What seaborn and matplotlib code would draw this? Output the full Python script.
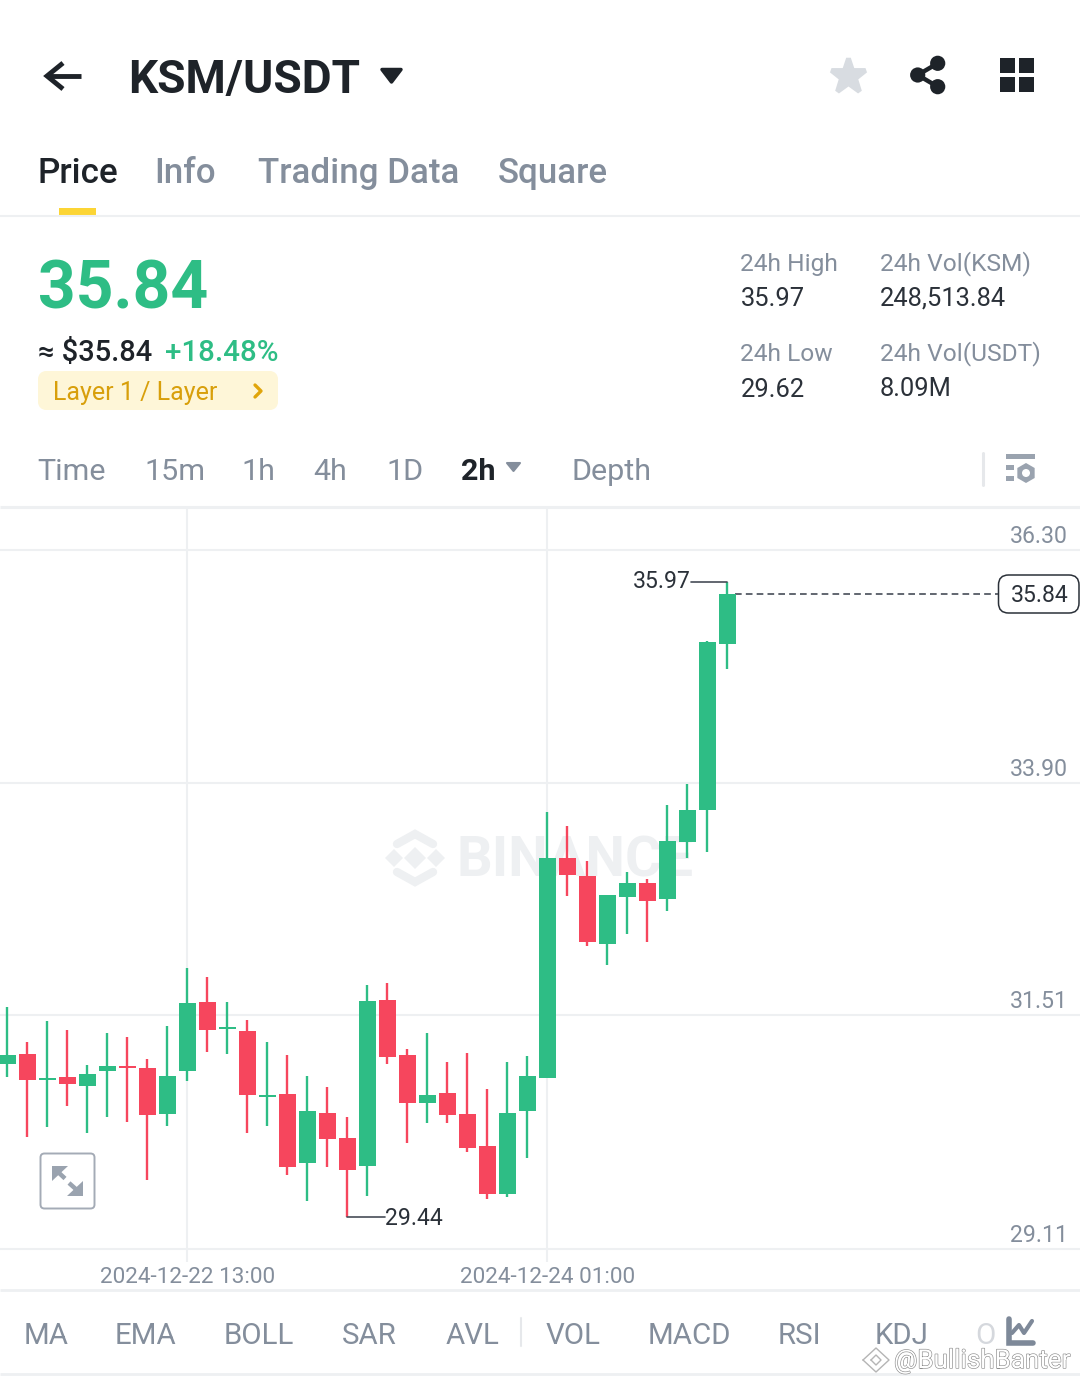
#!/usr/bin/env python
# -*- coding: utf-8 -*-
"""KSM/USDT 2h candle chart, trading app screen."""

import pandas as pd
import numpy as np
import matplotlib
matplotlib.use("Agg")
import matplotlib.pyplot as plt
from matplotlib.patches import FancyBboxPatch, Polygon, Circle, Rectangle
from matplotlib.transforms import ScaledTranslation
import matplotlib.patheffects as pe
import seaborn as sns

# candles, oldest first
opens = [31.01, 31.11, 30.85, 30.88, 30.79, 30.94, 30.99, 30.97, 30.50, 30.94,
         31.65, 31.37, 31.35, 30.67, 30.70, 29.99, 30.51, 30.25, 29.96, 31.67,
         31.10, 30.61, 30.71, 30.50, 30.17, 29.67, 30.53, 30.87, 33.13, 32.94,
         32.25, 32.73, 32.87, 32.71, 33.29, 33.62, 35.33]
closes = [31.10, 30.85, 30.87, 30.81, 30.91, 30.99, 30.97, 30.49, 30.89, 31.64,
          31.36, 31.39, 30.69, 30.69, 29.95, 30.53, 30.24, 29.92, 31.66, 31.08,
          30.61, 30.69, 30.49, 30.15, 29.68, 30.51, 30.89, 33.13, 32.95, 32.27,
          32.75, 32.87, 32.69, 33.30, 33.62, 35.35, 35.84]
highs = [31.60, 31.24, 31.45, 31.36, 31.00, 31.33, 31.29, 31.06, 31.40, 32.00,
         31.91, 31.65, 31.46, 31.24, 31.10, 30.89, 30.77, 30.47, 31.82, 31.84,
         31.17, 31.33, 31.03, 31.12, 30.75, 31.03, 31.09, 33.60, 33.46, 33.10,
         32.75, 32.99, 32.91, 33.67, 33.89, 35.36, 35.97]
lows = [30.88, 30.26, 30.36, 30.58, 30.30, 30.47, 30.42, 29.82, 30.37, 30.84,
        31.13, 31.11, 30.30, 30.37, 29.87, 29.60, 29.95, 29.44, 29.65, 31.01,
        30.20, 30.40, 30.40, 30.11, 29.62, 29.64, 30.05, 30.87, 32.74, 32.22,
        32.03, 32.35, 32.27, 32.58, 33.13, 33.19, 35.07]

price_ticks = [29.11, 31.51, 33.90, 36.30]
price_labels = ["29.11", "31.51", "33.90", "36.30"]
date_positions = [9, 27]
date_labels = ["2024-12-22 13:00", "2024-12-24 01:00"]
last_price = 35.84
high_mark = 35.97
low_mark = 29.44
high_mark_idx = 36
low_mark_idx = 17

tabs = [("Price", 38), ("Info", 154), ("Trading Data", 258.5), ("Square", 497.5)]
intervals = [("Time", 37), ("15m", 144), ("1h", 241), ("4h", 313), ("1D", 386), ("Depth", 572)]
indicators = [("MA", 24), ("EMA", 115), ("BOLL", 223.5), ("SAR", 342), ("AVL", 445.5),
              ("VOL", 546), ("MACD", 648), ("RSI", 777.5), ("KDJ", 874.5)]
stats = [("24h High", "35.97", 740.5, 271, 306), ("24h Vol(KSM)", "248,513.84", 879.5, 270, 305),
         ("24h Low", "29.62", 740.5, 361, 397), ("24h Vol(USDT)", "8.09M", 879.5, 360, 396)]

W, H = 1080, 1382
GREEN = "#2EBD85"
RED = "#F6465D"
DARK = "#1E2329"
GREY = "#848E9C"
LINE = "#EEF0F2"
ICON = "#9AA3AF"

sns.set_theme(style="white")
plt.rcParams["font.family"] = ["Roboto", "DejaVu Sans"]

fig = plt.figure(figsize=(W / 100, H / 100), dpi=100, facecolor="white")

# screen axes in pixels, watermark and app controls
ui = fig.add_axes([0, 0, 1, 1], zorder=0)
ui.set_xlim(0, W)
ui.set_ylim(H, 0)
ui.axis("off")


def txt(x, y, s, px, color=GREY, weight="normal", ha="left", **kw):
    # size given in pixels, y is the baseline
    return ui.text(x, y, s, fontsize=px * 0.72, color=color, fontweight=weight,
                   ha=ha, va="baseline", **kw)


def hline(y, x0=0, x1=W, lw=1.5, color=LINE):
    ui.plot([x0, x1], [y, y], color=color, lw=lw, solid_capstyle="butt")


# header
ui.plot([47, 81], [76, 76], color=DARK, lw=3.5, solid_capstyle="butt")
ui.plot([63, 47, 63], [63, 76, 89], color=DARK, lw=3.5, solid_capstyle="butt", solid_joinstyle="miter")
txt(128.5, 93, "KSM/USDT", 46, DARK, "bold")
ui.add_patch(Polygon([(382, 69.5), (401, 69.5), (391.5, 82)], closed=True, fc=DARK, ec=DARK, lw=2.5, joinstyle="round"))
ui.plot([848], [76], marker="*", ms=26, color="#D8DCE1", mec="#D8DCE1", mew=3.5, mfc="#D8DCE1", ls="none")

# share icon
ui.plot([937.7, 917.7, 937.7], [63.3, 75, 86.7], color=DARK, lw=3.2)
for cx, cy in [(917.7, 75), (937.7, 63.3), (937.7, 86.7)]:
    ui.add_patch(Circle((cx, cy), 7.6, fc=DARK, ec="none"))

# layout icon
for sx in (1000, 1018.7):
    for sy in (58.3, 77.3):
        ui.add_patch(Rectangle((sx, sy), 15.3, 15, fc=DARK, ec="none"))

for i, (label, x) in enumerate(tabs):
    txt(x, 183, label, 35, DARK if i == 0 else GREY, "medium")
ui.add_patch(Rectangle((59, 208), 37, 7, fc="#FCD535", ec="none"))
hline(216)

# price block
txt(38, 308, "35.84", 66, GREEN, "bold")
txt(38, 361, "≈ $35.84", 29, DARK, "medium")
txt(165.5, 361, "+18.48%", 29.5, GREEN, "medium")
ui.add_patch(Rectangle((46, 371), 224, 39, fc="#FEF6D8", ec="none"))
ui.add_patch(Rectangle((38, 379), 240, 23, fc="#FEF6D8", ec="none"))
for corner in [(46, 379), (46, 402), (270, 379), (270, 402)]:
    ui.add_patch(Circle(corner, 8, fc="#FEF6D8", ec="none"))
txt(53, 400, "Layer 1 / Layer", 25, "#D89F0B")
ui.plot([255, 261, 255], [385, 391, 397], color="#E0A50B", lw=2.4)

for head, value, x, y0, y1 in stats:
    txt(x, y0, head, 24.5, GREY)
    txt(x, y1, value, 25.5, "#2B3139")

# interval row
for label, x in intervals:
    txt(x, 480, label, 30.5, GREY)
txt(461, 480, "2h", 30.5, DARK, "bold")
ui.add_patch(Polygon([(507, 463), (520, 463), (513.5, 471)], closed=True, fc=GREY, ec=GREY, lw=1.5, joinstyle="round"))
ui.plot([983, 983], [453, 485], color="#E6E8EB", lw=2.2)
ui.add_patch(Rectangle((1006, 454), 29, 4.5, fc=ICON, ec="none"))
ui.add_patch(Rectangle((1006, 465), 8, 5, fc=ICON, ec="none"))
ui.add_patch(Rectangle((1006, 475.5), 8, 5, fc=ICON, ec="none"))
angles = np.deg2rad(np.arange(30, 390, 60))
ui.add_patch(Polygon(np.c_[1026 + 10 * np.cos(angles), 473 + 10 * np.sin(angles)], closed=True, fc=ICON, ec="none"))
ui.add_patch(Circle((1026, 473), 4, fc="white", ec="none"))
hline(507, lw=2.2)

# BINANCE watermark behind the candles
wm = "#EEF0F2"
cx, cy = 415, 858
ui.add_patch(Polygon([(cx, cy - 11), (cx + 11, cy), (cx, cy + 11), (cx - 11, cy)], closed=True, fc=wm, ec="none"))
ui.add_patch(Polygon([(cx - 30, cy), (cx - 21, cy - 9), (cx - 12, cy), (cx - 21, cy + 9)], closed=True, fc=wm, ec="none"))
ui.add_patch(Polygon([(cx + 30, cy), (cx + 21, cy - 9), (cx + 12, cy), (cx + 21, cy + 9)], closed=True, fc=wm, ec="none"))
ui.plot([cx - 18, cx, cx + 18], [cy - 14, cy - 24, cy - 14], color=wm, lw=6, solid_joinstyle="miter")
ui.plot([cx - 18, cx, cx + 18], [cy + 14, cy + 24, cy + 14], color=wm, lw=6, solid_joinstyle="miter")
txt(457, 876, "BINANCE", 56, wm, "bold")

# bottom row
hline(1290, lw=2)
hline(1374, lw=2)
for label, x in indicators:
    txt(x, 1344, label, 29.5, GREY)
txt(975, 1344, "O", 29.5, "#D5D8DD")
ui.plot([521, 521], [1318, 1346], color="#E6E8EB", lw=1.5)
ui.plot([1009, 1009, 1033], [1319, 1343, 1343], color="#7E8999", lw=4, solid_joinstyle="miter")
ui.plot([1012, 1019, 1024, 1032], [1333, 1325, 1333, 1321], color="#7E8999", lw=3)

# reposter credit
txt(894, 1368, "@BullishBanter", 26, "white",
    path_effects=[pe.withStroke(linewidth=0.9, foreground="#8C8C8C")])
lx, ly = 876, 1360
ui.plot([lx - 13, lx, lx + 13, lx, lx - 13], [ly, ly + 12, ly, ly - 12, ly], color="#B5B5B5", lw=1)
ui.plot([lx - 5, lx, lx + 5, lx, lx - 5], [ly, ly + 5, ly, ly - 5, ly], color="#B5B5B5", lw=1)

# expand button
ui.add_patch(FancyBboxPatch((43, 1156), 49, 50, boxstyle="round,pad=2.5,rounding_size=4",
                            fc="white", ec="#A4ABB6", lw=1.4))
ui.plot([58, 65], [1172, 1178.5], color=ICON, lw=3.2, solid_capstyle="butt")
ui.plot([69, 78], [1183, 1191], color=ICON, lw=3.2, solid_capstyle="butt")
ui.add_patch(Polygon([(52, 1166), (68, 1166), (52, 1181)], closed=True, fc=ICON, ec="none"))
ui.add_patch(Polygon([(83, 1196), (67, 1196), (83, 1181)], closed=True, fc=ICON, ec="none"))

# last price tag
ui.add_patch(FancyBboxPatch((1008.5, 585), 60.5, 18, boxstyle="round,pad=10,rounding_size=10",
                            fc="white", ec="#2B3139", lw=1.1))

# price chart, x runs on candle index so one candle is 20 px
top_px, bottom_px = 508, 1262
ax = fig.add_axes([0, 1 - bottom_px / H, 1, (bottom_px - top_px) / H], zorder=1)
ax.patch.set_alpha(0)

df = pd.DataFrame({"open": opens, "close": closes, "high": highs, "low": lows})
df["idx"] = df.index
df["direction"] = np.where(df["close"] >= df["open"], "up", "down")
palette = {"up": GREEN, "down": RED}

wicks = df.melt(id_vars=["idx", "direction"], value_vars=["high", "low"], value_name="price")
sns.lineplot(data=wicks, x="idx", y="price", units="idx", hue="direction", estimator=None,
             palette=palette, sort=False, linewidth=1.7, legend=False, ax=ax,
             solid_capstyle="butt", zorder=2)
ax.bar(df["idx"], (df["close"] - df["open"]).abs().clip(lower=0.02),
       bottom=df[["open", "close"]].min(axis=1), width=0.86,
       color=df["direction"].map(palette), linewidth=0, zorder=3)

ax.set_xlim(-0.365, 53.635)
ax.set_ylim(28.976, 36.727)
ax.set_xlabel("")
ax.set_ylabel("")
sns.despine(ax=ax, left=True, bottom=True, right=True, top=True)

ax.set_xticks(date_positions, date_labels)
ax.set_yticks(price_ticks, price_labels)
ax.yaxis.tick_right()
ax.tick_params(axis="x", length=0, pad=3.5, labelsize=22.5 * 0.72, labelcolor=GREY)
ax.tick_params(axis="y", length=0, pad=-8.7, labelsize=23 * 0.72, labelcolor=GREY)
raise_labels = ScaledTranslation(0, 2 / 100, fig.dpi_scale_trans)
for lab in ax.get_yticklabels():
    lab.set_ha("right")
    lab.set_va("bottom")
    lab.set_transform(lab.get_transform() + raise_labels)
ax.grid(True, color=LINE, lw=1.5, zorder=0)
ax.set_axisbelow(True)

# high and low marks
ax.plot([high_mark_idx - 1.8, high_mark_idx], [high_mark, high_mark], color="#474D57", lw=1.2, zorder=2)
ax.annotate(f"{high_mark:.2f}", xy=(high_mark_idx - 1.85, high_mark), ha="right", va="center",
            fontsize=23 * 0.72, color="#2B3139")
ax.plot([low_mark_idx, low_mark_idx + 1.9], [low_mark, low_mark], color="#474D57", lw=1.2, zorder=2)
ax.annotate(f"{low_mark:.2f}", xy=(low_mark_idx + 1.9, low_mark), xytext=(0, -1.5), textcoords="offset pixels",
            ha="left", va="center", fontsize=23 * 0.72, color="#2B3139")

# last price line and label
ax.plot([36.4, 49.55], [last_price, last_price], color="#474D57", lw=1.2, ls=(0, (4, 2.5)), zorder=2)
ax.annotate(f"{last_price:.2f}", xy=(51.6, last_price), xytext=(0, -1.5), textcoords="offset pixels",
            ha="center", va="center", fontsize=23 * 0.72, color="#2B3139")

fig.savefig("out.png", dpi=100)
